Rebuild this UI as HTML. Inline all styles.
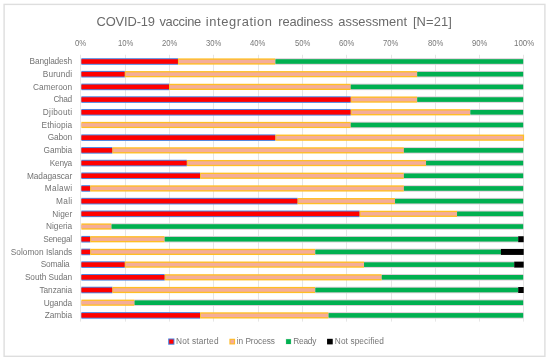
<!DOCTYPE html><html><head><meta charset="utf-8"><title>chart</title><style>
html,body{margin:0;padding:0;background:#fff}
body{width:550px;height:361px;position:relative;overflow:hidden;font-family:"Liberation Sans",sans-serif;color:#595959}
.t{position:absolute;white-space:nowrap;line-height:1}
.title{position:absolute;left:0;top:0;color:#6a6a6a}
.tw{font-size:12.9px}
.ax{font-size:8.3px;color:#787878;transform-origin:0 0}
.cat{font-size:8.3px;color:#747474}
.lg{font-size:8.3px;color:#747474}

</style></head><body>
<svg width="550" height="361" viewBox="0 0 550 361" style="position:absolute;left:0;top:0">
<rect x="0" y="0" width="550" height="361" fill="#fff"/>
<rect x="4.1" y="4.4" width="540.8" height="351.9" fill="#fff" stroke="#dedede" stroke-width="1.4"/>
<line x1="80.50" y1="54.75" x2="80.50" y2="321.6" stroke="#dfdfdf" stroke-width="0.8"/>
<line x1="125.50" y1="54.75" x2="125.50" y2="321.6" stroke="#dfdfdf" stroke-width="0.8"/>
<line x1="169.50" y1="54.75" x2="169.50" y2="321.6" stroke="#dfdfdf" stroke-width="0.8"/>
<line x1="213.50" y1="54.75" x2="213.50" y2="321.6" stroke="#dfdfdf" stroke-width="0.8"/>
<line x1="258.50" y1="54.75" x2="258.50" y2="321.6" stroke="#dfdfdf" stroke-width="0.8"/>
<line x1="302.50" y1="54.75" x2="302.50" y2="321.6" stroke="#dfdfdf" stroke-width="0.8"/>
<line x1="346.50" y1="54.75" x2="346.50" y2="321.6" stroke="#dfdfdf" stroke-width="0.8"/>
<line x1="391.50" y1="54.75" x2="391.50" y2="321.6" stroke="#dfdfdf" stroke-width="0.8"/>
<line x1="435.50" y1="54.75" x2="435.50" y2="321.6" stroke="#dfdfdf" stroke-width="0.8"/>
<line x1="479.50" y1="54.75" x2="479.50" y2="321.6" stroke="#dfdfdf" stroke-width="0.8"/>
<line x1="523.50" y1="54.75" x2="523.50" y2="321.6" stroke="#dfdfdf" stroke-width="0.8"/>
<rect x="81.40" y="58.20" width="96.56" height="6.60" fill="#4f85e0"/>
<rect x="81.40" y="59.20" width="96.56" height="4.60" fill="#ff0000"/>
<rect x="177.96" y="58.40" width="97.46" height="6.20" fill="#ffbe24"/>
<rect x="178.86" y="59.75" width="96.56" height="3.50" fill="#f4ad99"/>
<rect x="275.42" y="58.25" width="247.78" height="6.50" fill="#dccdd6"/>
<rect x="275.42" y="59.20" width="247.78" height="4.60" fill="#00b050"/>
<rect x="81.40" y="70.89" width="43.40" height="6.60" fill="#4f85e0"/>
<rect x="81.40" y="71.89" width="43.40" height="4.60" fill="#ff0000"/>
<rect x="124.80" y="71.09" width="292.38" height="6.20" fill="#ffbe24"/>
<rect x="125.70" y="72.44" width="291.48" height="3.50" fill="#f4ad99"/>
<rect x="417.18" y="70.94" width="106.02" height="6.50" fill="#dccdd6"/>
<rect x="417.18" y="71.89" width="106.02" height="4.60" fill="#00b050"/>
<rect x="81.40" y="83.59" width="87.70" height="6.60" fill="#4f85e0"/>
<rect x="81.40" y="84.59" width="87.70" height="4.60" fill="#ff0000"/>
<rect x="169.10" y="83.79" width="181.63" height="6.20" fill="#ffbe24"/>
<rect x="170.00" y="85.14" width="180.73" height="3.50" fill="#f4ad99"/>
<rect x="350.73" y="83.64" width="172.47" height="6.50" fill="#dccdd6"/>
<rect x="350.73" y="84.59" width="172.47" height="4.60" fill="#00b050"/>
<rect x="81.40" y="96.28" width="269.33" height="6.60" fill="#4f85e0"/>
<rect x="81.40" y="97.28" width="269.33" height="4.60" fill="#ff0000"/>
<rect x="350.73" y="96.48" width="66.45" height="6.20" fill="#ffbe24"/>
<rect x="351.63" y="97.83" width="65.55" height="3.50" fill="#f4ad99"/>
<rect x="417.18" y="96.33" width="106.02" height="6.50" fill="#dccdd6"/>
<rect x="417.18" y="97.28" width="106.02" height="4.60" fill="#00b050"/>
<rect x="81.40" y="108.98" width="269.33" height="6.60" fill="#4f85e0"/>
<rect x="81.40" y="109.98" width="269.33" height="4.60" fill="#ff0000"/>
<rect x="350.73" y="109.18" width="119.61" height="6.20" fill="#ffbe24"/>
<rect x="351.63" y="110.53" width="118.71" height="3.50" fill="#f4ad99"/>
<rect x="470.34" y="109.03" width="52.86" height="6.50" fill="#dccdd6"/>
<rect x="470.34" y="109.98" width="52.86" height="4.60" fill="#00b050"/>
<rect x="81.40" y="121.87" width="269.33" height="6.20" fill="#ffbe24"/>
<rect x="81.40" y="123.22" width="269.33" height="3.50" fill="#f4ad99"/>
<rect x="350.73" y="121.72" width="172.47" height="6.50" fill="#dccdd6"/>
<rect x="350.73" y="122.67" width="172.47" height="4.60" fill="#00b050"/>
<rect x="81.40" y="134.37" width="194.02" height="6.60" fill="#4f85e0"/>
<rect x="81.40" y="135.37" width="194.02" height="4.60" fill="#ff0000"/>
<rect x="275.42" y="134.57" width="248.68" height="6.20" fill="#ffbe24"/>
<rect x="276.32" y="135.92" width="246.48" height="3.50" fill="#f4ad99"/>
<rect x="81.40" y="147.06" width="31.00" height="6.60" fill="#4f85e0"/>
<rect x="81.40" y="148.06" width="31.00" height="4.60" fill="#ff0000"/>
<rect x="112.40" y="147.26" width="291.49" height="6.20" fill="#ffbe24"/>
<rect x="113.30" y="148.61" width="290.59" height="3.50" fill="#f4ad99"/>
<rect x="403.89" y="147.11" width="119.31" height="6.50" fill="#dccdd6"/>
<rect x="403.89" y="148.06" width="119.31" height="4.60" fill="#00b050"/>
<rect x="81.40" y="159.76" width="105.42" height="6.60" fill="#4f85e0"/>
<rect x="81.40" y="160.76" width="105.42" height="4.60" fill="#ff0000"/>
<rect x="186.82" y="159.96" width="239.22" height="6.20" fill="#ffbe24"/>
<rect x="187.72" y="161.31" width="238.32" height="3.50" fill="#f4ad99"/>
<rect x="426.04" y="159.81" width="97.16" height="6.50" fill="#dccdd6"/>
<rect x="426.04" y="160.76" width="97.16" height="4.60" fill="#00b050"/>
<rect x="81.40" y="172.45" width="118.71" height="6.60" fill="#4f85e0"/>
<rect x="81.40" y="173.45" width="118.71" height="4.60" fill="#ff0000"/>
<rect x="200.11" y="172.65" width="203.78" height="6.20" fill="#ffbe24"/>
<rect x="201.01" y="174.00" width="202.88" height="3.50" fill="#f4ad99"/>
<rect x="403.89" y="172.50" width="119.31" height="6.50" fill="#dccdd6"/>
<rect x="403.89" y="173.45" width="119.31" height="4.60" fill="#00b050"/>
<rect x="81.40" y="185.15" width="8.85" height="6.60" fill="#4f85e0"/>
<rect x="81.40" y="186.15" width="8.85" height="4.60" fill="#ff0000"/>
<rect x="90.25" y="185.35" width="313.64" height="6.20" fill="#ffbe24"/>
<rect x="91.15" y="186.70" width="312.74" height="3.50" fill="#f4ad99"/>
<rect x="403.89" y="185.20" width="119.31" height="6.50" fill="#dccdd6"/>
<rect x="403.89" y="186.15" width="119.31" height="4.60" fill="#00b050"/>
<rect x="81.40" y="197.84" width="216.17" height="6.60" fill="#4f85e0"/>
<rect x="81.40" y="198.84" width="216.17" height="4.60" fill="#ff0000"/>
<rect x="297.57" y="198.04" width="97.46" height="6.20" fill="#ffbe24"/>
<rect x="298.47" y="199.39" width="96.56" height="3.50" fill="#f4ad99"/>
<rect x="395.03" y="197.89" width="128.17" height="6.50" fill="#dccdd6"/>
<rect x="395.03" y="198.84" width="128.17" height="4.60" fill="#00b050"/>
<rect x="81.40" y="210.54" width="278.19" height="6.60" fill="#4f85e0"/>
<rect x="81.40" y="211.54" width="278.19" height="4.60" fill="#ff0000"/>
<rect x="359.59" y="210.74" width="97.46" height="6.20" fill="#ffbe24"/>
<rect x="360.49" y="212.09" width="96.56" height="3.50" fill="#f4ad99"/>
<rect x="457.05" y="210.59" width="66.15" height="6.50" fill="#dccdd6"/>
<rect x="457.05" y="211.54" width="66.15" height="4.60" fill="#00b050"/>
<rect x="81.40" y="223.43" width="30.11" height="6.20" fill="#ffbe24"/>
<rect x="81.40" y="224.78" width="30.11" height="3.50" fill="#f4ad99"/>
<rect x="111.51" y="223.28" width="411.69" height="6.50" fill="#dccdd6"/>
<rect x="111.51" y="224.23" width="411.69" height="4.60" fill="#00b050"/>
<rect x="81.40" y="235.93" width="8.85" height="6.60" fill="#4f85e0"/>
<rect x="81.40" y="236.93" width="8.85" height="4.60" fill="#ff0000"/>
<rect x="90.25" y="236.13" width="74.42" height="6.20" fill="#ffbe24"/>
<rect x="91.15" y="237.48" width="73.52" height="3.50" fill="#f4ad99"/>
<rect x="164.67" y="235.98" width="353.51" height="6.50" fill="#dccdd6"/>
<rect x="164.67" y="236.93" width="353.51" height="4.60" fill="#00b050"/>
<rect x="518.18" y="236.23" width="5.52" height="6.00" fill="#000000"/>
<rect x="81.40" y="248.62" width="8.85" height="6.60" fill="#4f85e0"/>
<rect x="81.40" y="249.62" width="8.85" height="4.60" fill="#ff0000"/>
<rect x="90.25" y="248.82" width="225.04" height="6.20" fill="#ffbe24"/>
<rect x="91.15" y="250.17" width="224.14" height="3.50" fill="#f4ad99"/>
<rect x="315.29" y="248.67" width="185.62" height="6.50" fill="#dccdd6"/>
<rect x="315.29" y="249.62" width="185.62" height="4.60" fill="#00b050"/>
<rect x="500.91" y="248.92" width="22.79" height="6.00" fill="#000000"/>
<rect x="81.40" y="261.32" width="43.40" height="6.60" fill="#4f85e0"/>
<rect x="81.40" y="262.32" width="43.40" height="4.60" fill="#ff0000"/>
<rect x="124.80" y="261.52" width="239.22" height="6.20" fill="#ffbe24"/>
<rect x="125.70" y="262.87" width="238.32" height="3.50" fill="#f4ad99"/>
<rect x="364.02" y="261.37" width="150.18" height="6.50" fill="#dccdd6"/>
<rect x="364.02" y="262.32" width="150.18" height="4.60" fill="#00b050"/>
<rect x="514.20" y="261.62" width="9.50" height="6.00" fill="#000000"/>
<rect x="81.40" y="274.01" width="83.27" height="6.60" fill="#4f85e0"/>
<rect x="81.40" y="275.01" width="83.27" height="4.60" fill="#ff0000"/>
<rect x="164.67" y="274.21" width="217.07" height="6.20" fill="#ffbe24"/>
<rect x="165.57" y="275.56" width="216.17" height="3.50" fill="#f4ad99"/>
<rect x="381.74" y="274.06" width="141.46" height="6.50" fill="#dccdd6"/>
<rect x="381.74" y="275.01" width="141.46" height="4.60" fill="#00b050"/>
<rect x="81.40" y="286.71" width="31.00" height="6.60" fill="#4f85e0"/>
<rect x="81.40" y="287.71" width="31.00" height="4.60" fill="#ff0000"/>
<rect x="112.40" y="286.91" width="202.89" height="6.20" fill="#ffbe24"/>
<rect x="113.30" y="288.26" width="201.99" height="3.50" fill="#f4ad99"/>
<rect x="315.29" y="286.76" width="202.89" height="6.50" fill="#dccdd6"/>
<rect x="315.29" y="287.71" width="202.89" height="4.60" fill="#00b050"/>
<rect x="518.18" y="287.01" width="5.52" height="6.00" fill="#000000"/>
<rect x="81.40" y="299.60" width="53.15" height="6.20" fill="#ffbe24"/>
<rect x="81.40" y="300.95" width="53.15" height="3.50" fill="#f4ad99"/>
<rect x="134.55" y="299.45" width="388.65" height="6.50" fill="#dccdd6"/>
<rect x="134.55" y="300.40" width="388.65" height="4.60" fill="#00b050"/>
<rect x="81.40" y="312.10" width="118.71" height="6.60" fill="#4f85e0"/>
<rect x="81.40" y="313.10" width="118.71" height="4.60" fill="#ff0000"/>
<rect x="200.11" y="312.30" width="128.47" height="6.20" fill="#ffbe24"/>
<rect x="201.01" y="313.65" width="127.57" height="3.50" fill="#f4ad99"/>
<rect x="328.58" y="312.15" width="194.62" height="6.50" fill="#dccdd6"/>
<rect x="328.58" y="313.10" width="194.62" height="4.60" fill="#00b050"/>
<rect x="168.20" y="338.50" width="6.20" height="6.20" fill="#457cdc"/><rect x="169.20" y="339.50" width="4.20" height="4.20" fill="#ff0000"/>
<rect x="229.40" y="338.75" width="5.70" height="5.70" fill="#febb28"/><rect x="230.50" y="339.85" width="3.50" height="3.50" fill="#f4ad99"/>
<rect x="285.70" y="338.80" width="5.60" height="5.60" fill="#cfe5d6"/><rect x="286.10" y="339.20" width="4.80" height="4.80" fill="#00b050"/>
<rect x="327.10" y="338.80" width="5.60" height="5.60" fill="#000"/><rect x="327.60" y="339.30" width="4.60" height="4.60" fill="#000"/>
</svg>
<div class="title"><span class="t tw" style="left:96.60px;top:16.00px;letter-spacing:-0.153px">COVID-19 </span><span class="t tw" style="left:159.40px;top:16.00px;letter-spacing:-0.303px">vaccine </span><span class="t tw" style="left:205.80px;top:16.00px;letter-spacing:0.600px">integration </span><span class="t tw" style="left:278.30px;top:16.00px;letter-spacing:-0.126px">readiness </span><span class="t tw" style="left:338.30px;top:16.00px;letter-spacing:-0.009px">assessment </span><span class="t tw" style="left:412.90px;top:16.00px;letter-spacing:0.111px">[N=21] </span></div>
<span class="t ax" style="left:75.30px;top:39.00px;transform:scaleX(0.9417)">0%</span>
<span class="t ax" style="left:117.55px;top:39.00px;transform:scaleX(0.9272)">10%</span>
<span class="t ax" style="left:161.85px;top:39.00px;transform:scaleX(0.9272)">20%</span>
<span class="t ax" style="left:206.15px;top:39.00px;transform:scaleX(0.9272)">30%</span>
<span class="t ax" style="left:250.45px;top:39.00px;transform:scaleX(0.9272)">40%</span>
<span class="t ax" style="left:294.75px;top:39.00px;transform:scaleX(0.9272)">50%</span>
<span class="t ax" style="left:339.05px;top:39.00px;transform:scaleX(0.9272)">60%</span>
<span class="t ax" style="left:383.35px;top:39.00px;transform:scaleX(0.9272)">70%</span>
<span class="t ax" style="left:427.65px;top:39.00px;transform:scaleX(0.9272)">80%</span>
<span class="t ax" style="left:471.95px;top:39.00px;transform:scaleX(0.9272)">90%</span>
<span class="t ax" style="left:513.85px;top:39.00px;transform:scaleX(0.9513)">100%</span>
<span class="t cat" style="left:29.60px;top:57.00px;letter-spacing:-0.136px">Bangladesh</span>
<span class="t cat" style="left:42.80px;top:70.00px;letter-spacing:0.132px">Burundi</span>
<span class="t cat" style="left:32.90px;top:83.00px;letter-spacing:0.079px">Cameroon</span>
<span class="t cat" style="left:53.50px;top:95.00px;letter-spacing:-0.381px">Chad</span>
<span class="t cat" style="left:42.80px;top:108.00px;letter-spacing:0.247px">Djibouti</span>
<span class="t cat" style="left:41.50px;top:121.00px;letter-spacing:0.102px">Ethiopia</span>
<span class="t cat" style="left:47.80px;top:133.00px;letter-spacing:-0.130px">Gabon</span>
<span class="t cat" style="left:43.50px;top:146.00px;letter-spacing:-0.072px">Gambia</span>
<span class="t cat" style="left:49.80px;top:159.00px;letter-spacing:-0.283px">Kenya</span>
<span class="t cat" style="left:26.90px;top:172.00px;letter-spacing:-0.041px">Madagascar</span>
<span class="t cat" style="left:44.80px;top:184.00px;letter-spacing:0.314px">Malawi</span>
<span class="t cat" style="left:56.00px;top:197.00px;letter-spacing:0.327px">Mali</span>
<span class="t cat" style="left:52.30px;top:210.00px;letter-spacing:0.018px">Niger</span>
<span class="t cat" style="left:46.00px;top:222.00px;letter-spacing:-0.016px">Nigeria</span>
<span class="t cat" style="left:43.20px;top:235.00px;letter-spacing:-0.242px">Senegal</span>
<span class="t cat" style="left:10.80px;top:248.00px;letter-spacing:0.004px">Solomon Islands</span>
<span class="t cat" style="left:40.70px;top:260.00px;letter-spacing:-0.164px">Somalia</span>
<span class="t cat" style="left:24.90px;top:273.00px;letter-spacing:-0.068px">South Sudan</span>
<span class="t cat" style="left:39.50px;top:286.00px;letter-spacing:-0.074px">Tanzania</span>
<span class="t cat" style="left:43.70px;top:299.00px;letter-spacing:-0.116px">Uganda</span>
<span class="t cat" style="left:44.80px;top:311.00px;letter-spacing:-0.054px">Zambia</span>
<span class="t lg" style="left:176.00px;top:337.00px;letter-spacing:0.191px">Not started</span>
<span class="t lg" style="left:236.80px;top:337.00px;letter-spacing:-0.059px">in Process</span>
<span class="t lg" style="left:293.30px;top:337.00px;letter-spacing:-0.246px">Ready</span>
<span class="t lg" style="left:334.80px;top:337.00px;letter-spacing:0.094px">Not specified</span>
</body></html>
